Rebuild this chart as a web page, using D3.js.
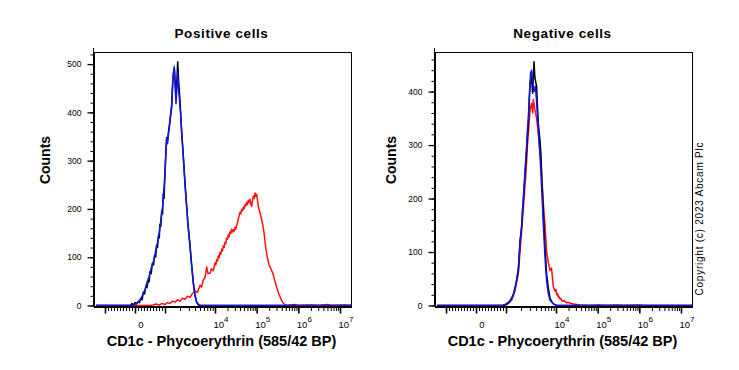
<!DOCTYPE html>
<html>
<head>
<meta charset="utf-8">
<script src="https://cdn.jsdelivr.net/npm/d3@7"></script>
<style>
  body { margin: 0; background: #fff; }
  svg { display: block; font-family: "Liberation Sans", Arial, sans-serif; }
</style>
</head>
<body>
<svg width="739" height="370"></svg>
<script>
// channel positions are in display units: 0 = zero, 1 = 10^3, 2 = 10^4 ... 5 = 10^7
const posBlack = [[-1.3,0],[-0.15,0],[-0.1,4],[-0.05,1],[0.0,6],[0.05,3],[0.1,8],[0.15,6],[0.2,15],[0.24,12],[0.28,28],[0.32,24],[0.36,40],[0.4,37],[0.44,52],[0.47,49],[0.5,70],[0.54,66],[0.58,88],[0.62,84],[0.65,104],[0.69,100],[0.72,125],[0.75,120],[0.78,145],[0.81,140],[0.83,168],[0.86,164],[0.89,195],[0.92,190],[0.94,230],[0.97,222],[1.0,278],[1.02,325],[1.034,348],[1.05,340],[1.07,360],[1.09,375],[1.11,395],[1.134,415],[1.15,455],[1.166,478],[1.186,490],[1.2,470],[1.22,430],[1.24,470],[1.254,505],[1.27,470],[1.29,440],[1.31,405],[1.334,360],[1.36,320],[1.386,278],[1.41,240],[1.434,205],[1.46,168],[1.5,125],[1.53,88],[1.566,48],[1.6,22],[1.634,7],[1.67,2],[1.7,0],[5.3,0]];
const posBlue = [[-1.3,0],[-0.1,0],[0.0,2],[0.05,5],[0.1,6],[0.15,11],[0.2,14],[0.24,20],[0.28,26],[0.32,30],[0.36,38],[0.4,48],[0.44,55],[0.47,60],[0.5,67],[0.54,78],[0.58,85],[0.62,92],[0.65,100],[0.69,114],[0.72,122],[0.75,130],[0.78,140],[0.81,152],[0.83,163],[0.86,176],[0.89,190],[0.92,205],[0.94,225],[0.97,246],[1.0,272],[1.02,320],[1.034,345],[1.05,335],[1.07,355],[1.09,372],[1.11,390],[1.134,410],[1.15,450],[1.166,480],[1.186,495],[1.2,460],[1.22,418],[1.24,455],[1.254,482],[1.27,450],[1.29,425],[1.31,400],[1.334,356],[1.36,315],[1.386,272],[1.41,235],[1.434,203],[1.46,165],[1.5,122],[1.53,85],[1.566,46],[1.6,20],[1.634,6],[1.67,1],[1.7,0],[5.3,0]];
const posRed = [[-1.3,0],[0.5,0],[0.6,1],[0.7,3],[0.8,1],[0.9,4],[1.0,2],[1.05,6],[1.1,4],[1.15,9],[1.2,7],[1.25,12],[1.3,9],[1.35,15],[1.4,13],[1.45,19],[1.5,17],[1.55,25],[1.6,30],[1.65,27],[1.7,42],[1.73,38],[1.766,53],[1.8,58],[1.834,80],[1.86,66],[1.9,67],[1.93,76],[1.966,72],[2.0,88],[2.02,84],[2.041,95],[2.06,92],[2.08,103],[2.1,99],[2.12,110],[2.14,106],[2.16,117],[2.18,113],[2.2,124],[2.22,120],[2.24,131],[2.26,128],[2.28,140],[2.3,137],[2.32,147],[2.34,142],[2.36,153],[2.38,149],[2.4,158],[2.42,152],[2.44,157],[2.46,154],[2.48,162],[2.5,158],[2.52,166],[2.54,172],[2.56,180],[2.58,186],[2.6,193],[2.62,190],[2.64,199],[2.66,196],[2.68,204],[2.7,200],[2.72,209],[2.74,206],[2.76,214],[2.78,209],[2.8,218],[2.82,214],[2.84,220],[2.86,210],[2.88,205],[2.9,218],[2.92,227],[2.94,222],[2.96,233],[2.98,226],[3.0,230],[3.02,218],[3.04,206],[3.06,198],[3.08,192],[3.1,185],[3.12,178],[3.14,170],[3.16,160],[3.18,148],[3.2,133],[3.22,118],[3.24,108],[3.26,98],[3.28,90],[3.3,83],[3.32,80],[3.34,76],[3.36,72],[3.38,68],[3.4,64],[3.42,56],[3.44,50],[3.46,44],[3.48,38],[3.5,33],[3.52,27],[3.54,22],[3.56,18],[3.58,14],[3.6,10],[3.62,7],[3.64,5],[3.68,2],[3.72,0],[3.9,2],[4.0,0],[4.3,1],[4.5,0],[4.7,2],[4.8,0],[5.1,1],[5.3,0]];

const negBlack = [[-1.3,0],[0.91,0],[1.013,2],[1.06,6],[1.113,14],[1.15,22],[1.18,33],[1.215,48],[1.247,65],[1.265,95],[1.28,121],[1.313,146],[1.33,178],[1.347,196],[1.365,220],[1.38,246],[1.4,270],[1.413,290],[1.43,318],[1.447,340],[1.465,380],[1.48,409],[1.5,430],[1.513,422],[1.533,397],[1.545,420],[1.56,456],[1.575,430],[1.587,422],[1.613,409],[1.63,370],[1.647,340],[1.665,322],[1.68,309],[1.7,280],[1.713,246],[1.73,210],[1.747,171],[1.765,140],[1.78,108],[1.8,80],[1.813,58],[1.847,33],[1.88,14],[1.91,8],[1.947,3],[2.016,0],[5.3,0]];
const negBlue = [[-1.3,0],[0.88,0],[1.0,3],[1.06,7],[1.113,12],[1.15,20],[1.18,30],[1.215,50],[1.247,70],[1.28,115],[1.313,150],[1.33,172],[1.347,200],[1.365,228],[1.38,250],[1.4,282],[1.413,300],[1.43,330],[1.447,350],[1.465,390],[1.48,415],[1.493,435],[1.513,440],[1.533,420],[1.56,400],[1.587,410],[1.613,380],[1.63,350],[1.647,330],[1.665,300],[1.68,280],[1.7,245],[1.713,220],[1.73,185],[1.747,150],[1.765,118],[1.78,90],[1.8,62],[1.813,45],[1.847,22],[1.88,10],[1.947,3],[2.016,0],[5.3,0]];
const negRed = [[-1.3,0],[0.95,0],[1.05,4],[1.113,10],[1.18,28],[1.247,60],[1.28,100],[1.313,140],[1.33,162],[1.347,180],[1.365,205],[1.38,225],[1.4,250],[1.413,270],[1.43,300],[1.447,320],[1.465,345],[1.48,365],[1.513,378],[1.533,360],[1.547,385],[1.58,365],[1.613,350],[1.647,320],[1.68,290],[1.713,245],[1.747,190],[1.78,150],[1.813,100],[1.847,80],[1.88,65],[1.91,70],[1.947,35],[1.98,27],[2.0,30],[2.016,20],[2.04,22],[2.06,15],[2.08,16],[2.096,12],[2.12,13],[2.14,9],[2.175,8],[2.2,9],[2.257,5],[2.3,6],[2.34,4],[2.415,3],[2.5,2],[2.576,1],[2.8,0],[3.0,1],[3.2,0],[3.5,1],[3.6,0],[4.0,1],[4.1,0],[5.3,0]];

const majorTicks = [-1000, 0, 1000, 1e4, 1e5, 1e6, 1e7];
const labelTicks = [[0, "0", ""], [1e4, "10", "4"], [1e5, "10", "5"], [1e6, "10", "6"], [1e7, "10", "7"]];
const titles = ["Positive cells", "Negative cells"];
const xTitle = "CD1c - Phycoerythrin (585/42 BP)";
const yTitle = "Counts";

// minor ticks: linear inside +-1000, log outside
const minorTicks = [];
for (let k = 1; k <= 9; k++) { minorTicks.push(k * 100, -k * 100); }
for (let d = 3; d <= 6; d++) for (let k = 2; k <= 9; k++) minorTicks.push(k * Math.pow(10, d));

// display transform
const tr = v => Math.abs(v) <= 1000 ? v / 1000 : Math.sign(v) * (1 + Math.log10(Math.abs(v) / 1000));

const svg = d3.select('svg');
const plotTop = 52, plotBottom = 306;

const panels = [
  { L: 94, R: 351, ymax: 525, ystep: 500, series: [posRed, posBlack, posBlue], title: titles[0], ytitleX: 50 },
  { L: 435, R: 692, ymax: 474, ystep: 400, series: [negRed, negBlack, negBlue], title: titles[1], ytitleX: 396 }
];
const colors = ['#ff1010', '#000000', '#1414e6'];

panels.forEach((p, pi) => {
  const g = svg.append('g');
  const x = d3.scaleLinear()
    .domain([-1, 0, 1, 2, 5])
    .range([p.L + 11, p.L + 41, p.L + 71, p.L + 121, p.L + 246]);
  const y = d3.scaleLinear().domain([0, p.ymax]).range([plotBottom - 0.5, plotTop]);

  const clipId = 'clip' + pi;
  g.append('clipPath').attr('id', clipId)
    .append('rect').attr('x', p.L).attr('y', plotTop - 5).attr('width', p.R - p.L).attr('height', plotBottom - plotTop + 5);

  const line = d3.line().x(d => x(d[0])).y(d => y(d[1]));
  g.append('g').attr('clip-path', `url(#${clipId})`)
    .selectAll('path')
    .data(p.series)
    .enter()
    .append('path')
    .attr('d', line)
    .attr('fill', 'none')
    .attr('stroke', (d, i) => colors[i])
    .attr('stroke-width', 1.5)
    .attr('stroke-linejoin', 'round');

  g.append('rect')
    .attr('x', p.L + 0.5).attr('y', plotTop + 0.5)
    .attr('width', p.R - p.L).attr('height', plotBottom - plotTop)
    .attr('fill', 'none').attr('stroke', '#000').attr('stroke-width', 1);

  // y axis
  const yMajor = d3.axisLeft(y).tickValues(d3.range(0, p.ystep + 1, 100)).tickSize(6).tickSizeOuter(0);
  const yMinor = d3.axisLeft(y).tickValues(d3.range(0, p.ymax, 20)).tickSize(3).tickSizeOuter(0).tickFormat('');
  const ya = g.append('g').attr('transform', `translate(${p.L - 0.5},0)`).call(yMinor);
  const yb = g.append('g').attr('transform', `translate(${p.L - 0.5},0)`).call(yMajor);
  [ya, yb].forEach(a => a.select('.domain').remove());
  yb.selectAll('.tick line').attr('stroke-width', 1.3);
  yb.selectAll('.tick text').attr('font-size', 8.5).attr('font-family', 'Liberation Sans, Arial').attr('x', -12);
  g.append('line').attr('x1', p.L - 0.5).attr('x2', p.L - 0.5).attr('y1', plotTop - 4).attr('y2', plotBottom + 1)
    .attr('stroke', '#000');

  // x axis
  const axY = plotBottom + 1.5;
  const xMinor = d3.axisBottom(x).tickValues(minorTicks.map(tr)).tickSize(3.5).tickSizeOuter(0).tickFormat('');
  const xMajor = d3.axisBottom(x).tickValues(majorTicks.map(tr)).tickSize(6).tickSizeOuter(0).tickFormat('');
  const xa = g.append('g').attr('transform', `translate(0,${axY})`).call(xMinor);
  const xb = g.append('g').attr('transform', `translate(0,${axY})`).call(xMajor);
  [xa, xb].forEach(a => a.select('.domain').remove());
  xb.selectAll('.tick line').attr('stroke-width', 1.6);
  g.append('line').attr('x1', p.L).attr('x2', p.R + 1).attr('y1', axY).attr('y2', axY).attr('stroke', '#000').attr('stroke-width', 1.2);

  const lab = g.selectAll('.xlab').data(labelTicks).enter().append('text')
    .attr('class', 'xlab')
    .attr('x', d => x(tr(d[0])) + 6)
    .attr('y', 328)
    .attr('text-anchor', 'middle')
    .attr('font-size', 9.5);
  lab.append('tspan').text(d => d[1]);
  lab.append('tspan').attr('dy', -6).attr('font-size', 8).text(d => d[2]);

  // titles
  g.append('text')
    .attr('x', (p.L + p.R) / 2 - 1).attr('y', 38)
    .attr('text-anchor', 'middle')
    .attr('font-weight', 'bold').attr('font-size', 13.5).attr('letter-spacing', 0.6)
    .text(p.title);
  g.append('text')
    .attr('x', (p.L + p.R) / 2 - 1).attr('y', 346)
    .attr('text-anchor', 'middle')
    .attr('font-weight', 'bold').attr('font-size', 14.5)
    .text(xTitle);
  g.append('text')
    .attr('transform', `translate(${p.ytitleX},160) rotate(-90)`)
    .attr('text-anchor', 'middle')
    .attr('font-weight', 'bold').attr('font-size', 14)
    .text(yTitle);
});

svg.append('text')
  .attr('transform', 'translate(703,219) rotate(-90)')
  .attr('text-anchor', 'middle')
  .attr('font-size', 10)
  .attr('textLength', 153)
  .attr('lengthAdjust', 'spacing')
  .text('Copyright (c) 2023 Abcam Plc');
</script>
</body>
</html>
